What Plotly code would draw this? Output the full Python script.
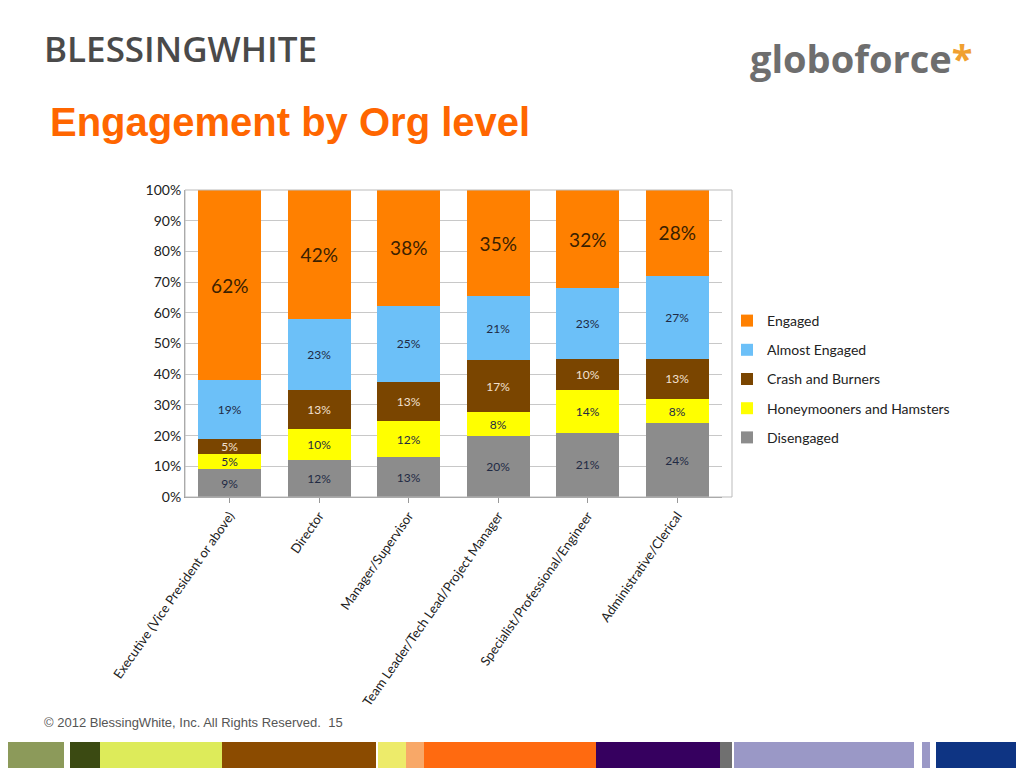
import plotly.graph_objects as go

categories = ["Executive (Vice President or above)", "Director", "Manager/Supervisor",
              "Team Leader/Tech Lead/Project Manager", "Specialist/Professional/Engineer",
              "Administrative/Clerical"]
disengaged = [9, 12, 13, 20, 21, 24]
honeymooners = [5, 10, 12, 8, 14, 8]
crash = [5, 13, 13, 17, 10, 13]
almost = [19, 23, 25, 21, 23, 27]
engaged = [62, 42, 38, 35, 32, 28]
yticks = [0, 10, 20, 30, 40, 50, 60, 70, 80, 90, 100]

series = [
    ("Disengaged", disengaged, "#8C8C8C", "#1F2A44", 12),
    ("Honeymooners and Hamsters", honeymooners, "#FFFF00", "#1F2A44", 12),
    ("Crash and Burners", crash, "#7A4500", "#F3E0D0", 12),
    ("Almost Engaged", almost, "#6CC0F8", "#1F2A44", 12),
    ("Engaged", engaged, "#FF8000", "#3A2000", 19),
]

OX, OY = 8, 8  # page body offset
def px(x): return (x - OX) / 1024
def py(y): return 1 - (y - OY) / 768

fig = go.Figure()
for i, (name, vals, col, tcol, fs) in enumerate(series):
    fig.add_trace(go.Bar(
        x=categories, y=vals, name=name, legendgroup=name, legendrank=100 - i,
        marker=dict(color=col, line=dict(width=0)),
        text=[f"{v}%" for v in vals], textposition="inside", insidetextanchor="middle",
        textfont=dict(color=tcol, size=fs, family="Lato"), textangle=0, constraintext="none",
    ))

fig.update_layout(
    barmode="stack", barnorm="percent", bargap=0.3,
    width=1024, height=768, autosize=False, margin=dict(l=0, r=0, t=0, b=0, pad=0, autoexpand=False),
    paper_bgcolor="white", plot_bgcolor="white",
    font=dict(family="Lato", color="#333333"),
    xaxis=dict(domain=[px(185), px(722)], tickangle=-55, tickfont=dict(size=13, color="#222"),
               showline=True, linecolor="#999", ticks="outside", tickcolor="#999", anchor="y",
               automargin=False),
    yaxis=dict(domain=[py(497), py(190)], range=[0, 100], tickvals=yticks,
               ticktext=[f"{v}%" for v in yticks], tickfont=dict(size=14, color="#222"),
               showgrid=True, gridcolor="#C8C8C8", showline=True, linecolor="#999", automargin=False),
    legend=dict(x=px(727), y=py(305), xanchor="left", yanchor="top", traceorder="grouped",
                font=dict(size=14, color="#222"), itemwidth=30, tracegroupgap=8,
                bgcolor="rgba(0,0,0,0)"),
    showlegend=True,
)
fig.add_shape(type="rect", xref="paper", yref="paper", x0=px(185), x1=px(732),
              y0=py(497), y1=py(190), line=dict(color="#BBBBBB", width=1))

fig.add_annotation(text="Engagement by Org level", x=px(48), y=py(122), xref="paper", yref="paper",
                   xanchor="left", yanchor="middle", showarrow=False,
                   font=dict(family="Liberation Sans", size=40, color="#FF6600", weight="bold"))
fig.add_annotation(text="BLESSINGWHITE", x=px(42), y=py(48), xref="paper", yref="paper",
                   xanchor="left", yanchor="middle", showarrow=False,
                   font=dict(family="Open Sans", size=35, color="#4A4A4A", weight=600))
fig.add_annotation(text="globoforce<span style='color:#F0A030'>*</span>", x=px(748), y=py(58),
                   xref="paper", yref="paper", xanchor="left", yanchor="middle", showarrow=False,
                   font=dict(family="Open Sans", size=38, color="#6E6E6E", weight="bold"))
fig.add_annotation(text="© 2012 BlessingWhite, Inc. All Rights Reserved.  15", x=px(42), y=py(722),
                   xref="paper", yref="paper", xanchor="left", yanchor="middle", showarrow=False,
                   font=dict(family="Liberation Sans", size=13, color="#555"))

stripes = [(0, 64, "#8C9A5A"), (70, 100, "#3B4A12"), (100, 222, "#DDEB5A"), (222, 376, "#8B4B00"),
           (378, 406, "#EDEB6A"), (406, 424, "#F8A868"), (424, 596, "#FF6A10"), (596, 720, "#36005F"),
           (720, 732, "#707070"), (734, 914, "#9A98C6"), (922, 930, "#9A98C6"), (936, 1032, "#0E3483")]
for x0, x1, c in stripes:
    fig.add_shape(type="rect", xref="paper", yref="paper", x0=px(x0), x1=px(x1),
                  y0=-0.02, y1=py(742), fillcolor=c, line=dict(width=0))

fig.write_html("out.html")
